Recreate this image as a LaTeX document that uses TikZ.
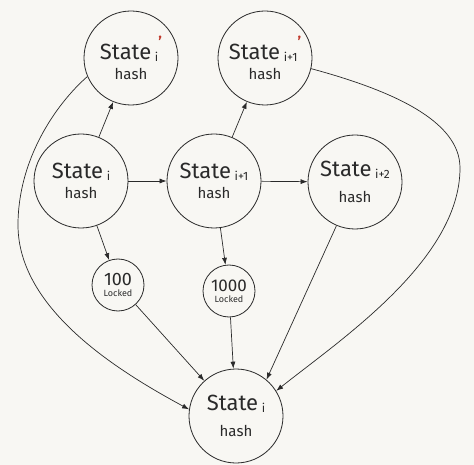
\documentclass[tikz,border=0pt]{standalone}
\usepackage{fontspec}
\setmainfont{Fira Sans}
\usetikzlibrary{arrows.meta}
\definecolor{bgc}{HTML}{F8F7F3}
\definecolor{ink}{HTML}{2A2A2A}
\definecolor{primered}{HTML}{C0392B}
\newcommand{\lowidx}[1]{\,\raisebox{-0.1em}{\fontsize{12}{12}\selectfont #1}}
\newcommand{\redprime}{\raisebox{0.55em}{\fontsize{15}{15}\selectfont\bfseries\textcolor{primered}{'}}}
\newcommand{\st}{\fontsize{22}{22}\selectfont State}
\newcommand{\hs}{\fontsize{15}{15}\selectfont hash}
\begin{document}
\begin{tikzpicture}[x=1pt,y=-1pt,
  bigstate/.style={circle,draw=ink,line width=0.8pt,minimum size=94pt,inner sep=0pt,align=center,text=ink},
  lockstate/.style={circle,draw=ink,line width=0.8pt,minimum size=52pt,inner sep=0pt,align=center,text=ink},
  conn/.style={draw=ink,line width=0.7pt,-{Latex[length=7pt,width=5pt]}}]
\fill[bgc] (0,0) rectangle (474,465);
\useasboundingbox (0,0) rectangle (474,465);

\node[bigstate] (tl) at (131,58) {\st\lowidx{i}\redprime\\[6pt]\hs};
\node[bigstate] (tm) at (265,58) {\st\lowidx{i+1}\redprime\\[6pt]\hs};
\node[bigstate] (ml) at (81,181) {\st\lowidx{i}\\[6pt]\hs};
\node[bigstate] (mc) at (214,181) {\st\lowidx{i+1}\\[6pt]\hs};
\node[bigstate] (mr) at (355,182) {\st\lowidx{i+2}\\[12pt]\hs};
\node[lockstate] (s1) at (118,285) {{\fontsize{18}{18}\selectfont 100}\\[-1pt]{\fontsize{9}{9}\selectfont Locked}};
\node[lockstate] (s2) at (229,291) {{\fontsize{17}{17}\selectfont 1000}\\[-1pt]{\fontsize{9}{9}\selectfont Locked}};
\node[bigstate] (b) at (236,416) {\st\lowidx{i}\\[12pt]\hs};

\draw[conn] (ml) -- (tl);
\draw[conn] (mc) -- (tm);
\draw[conn] (ml) -- (mc);
\draw[conn] (mc) -- (mr);
\draw[conn] (ml) -- (s1);
\draw[conn] (mc) -- (s2);
\draw[conn] (s1) -- (b);
\draw[conn] (s2) -- (b);
\draw[conn] (mr.247) -- (b.50);

\coordinate (lw) at (18,225);
\coordinate (rw) at (460,168);
\draw[conn] (tl.203) .. controls (55,105) and (18,160) .. (lw)
  .. controls (18,310) and (120,372) .. (b.172);
\draw[conn] (tm.347) .. controls (390,90) and (460,120) .. (rw)
  .. controls (460,260) and (340,340) .. (b.32);
\end{tikzpicture}
\end{document}
